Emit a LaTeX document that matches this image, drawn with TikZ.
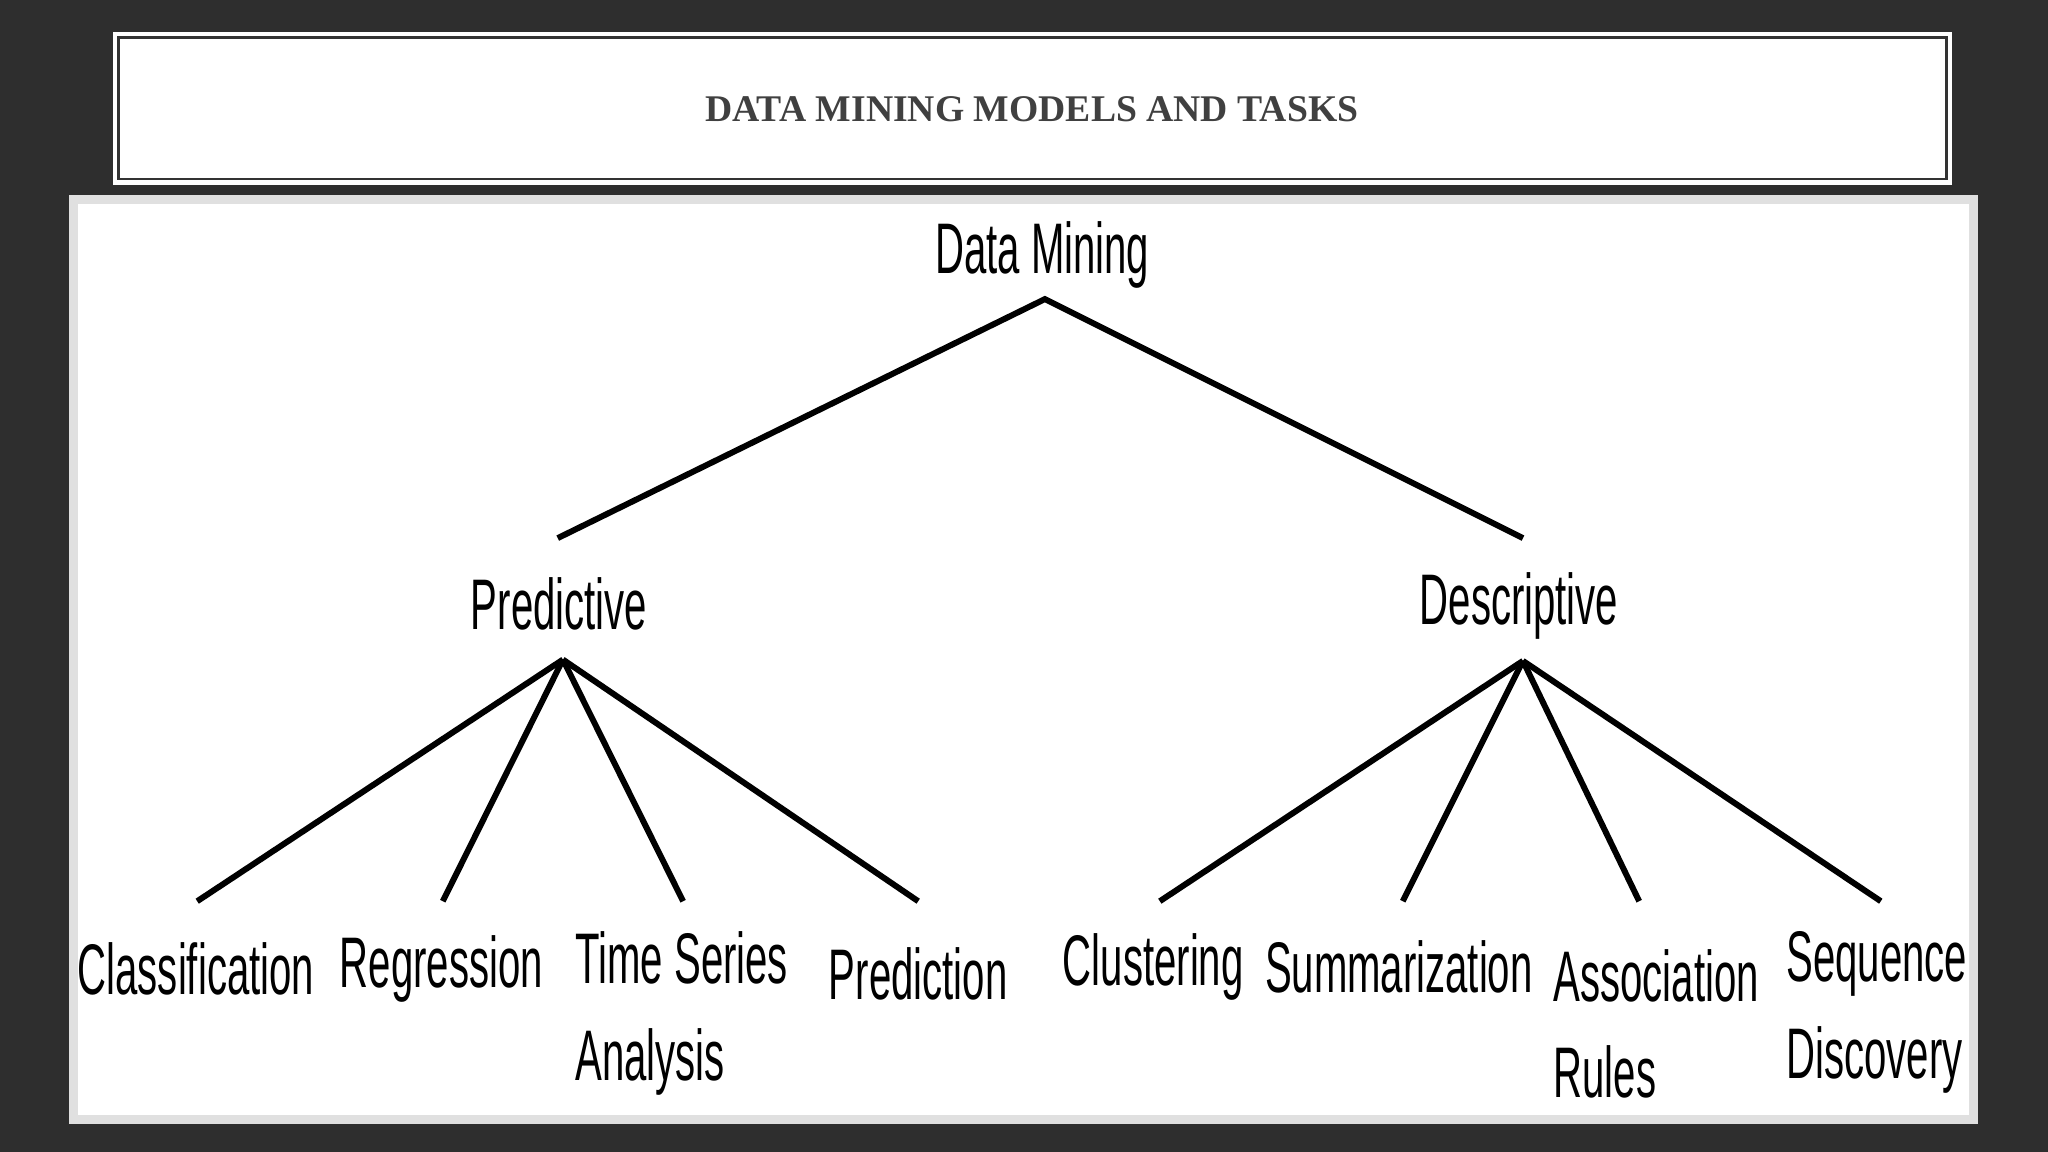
\documentclass[tikz,border=0pt]{standalone}
\usepackage{fontspec}
\newfontfamily\narrowf[FakeStretch=0.56]{Liberation Sans}
\newfontfamily\titlef{Liberation Serif}
\begin{document}
\begin{tikzpicture}[x=0.01cm,y=-0.01cm,
  lbl/.style={font=\narrowf\fontsize{15.6}{21}\selectfont,align=center,inner sep=0pt},
  br/.style={line width=1.3pt,black}]
\useasboundingbox (0,0) rectangle (1568,882);
\fill[black!82] (0,0) rectangle (1568,882);
\draw[white,fill=white,line width=1pt] (88,26) rectangle (1493,140);
\draw[black!80,line width=0.6pt] (91,29) rectangle (1490,137);
\node[font=\titlef\bfseries\fontsize{8.2}{10}\selectfont,text=black!75] (title) at (790,84) {DATA MINING MODELS AND TASKS};
\draw[fill=white,draw=black!12,line width=2pt] (56,153) rectangle (1511,857);
\node[lbl] (dm) at (798,195) {Data Mining};
\node[lbl] (pr) at (428,462) {Predictive};
\node[lbl] (de) at (1163,464) {Descriptive};
\coordinate (a0) at (800,229);
\coordinate (p0) at (427,412); \coordinate (d0) at (1166,412);
\coordinate (a1) at (431,505); \coordinate (a2) at (1166,506);
\foreach \n/\x in {p1/151,p2/339,p3/523,p4/703,d1/888,d2/1074,d3/1255,d4/1440}{\coordinate (\n) at (\x,690);}
\draw[br] (p0) -- (a0) -- (d0);
\draw[br] (a1) -- (p1); \draw[br] (a1) -- (p2); \draw[br] (a1) -- (p3); \draw[br] (a1) -- (p4);
\draw[br] (a2) -- (d1); \draw[br] (a2) -- (d2); \draw[br] (a2) -- (d3); \draw[br] (a2) -- (d4);
\node[lbl] (c1) at (150,742) {Classification};
\node[lbl] (c2) at (338,742) {Regression};
\node[lbl,align=left] (c3) at (522,776) {Time Series\\Analysis};
\node[lbl] (c4) at (703,746) {Prediction};
\node[lbl] (c5) at (883,740) {Clustering};
\node[lbl] (c6) at (1071,740) {Summarization};
\node[lbl,align=left] (c7) at (1268,784) {Association\\Rules};
\node[lbl,align=left] (c8) at (1437,775) {Sequence\\Discovery};
\end{tikzpicture}
\end{document}
